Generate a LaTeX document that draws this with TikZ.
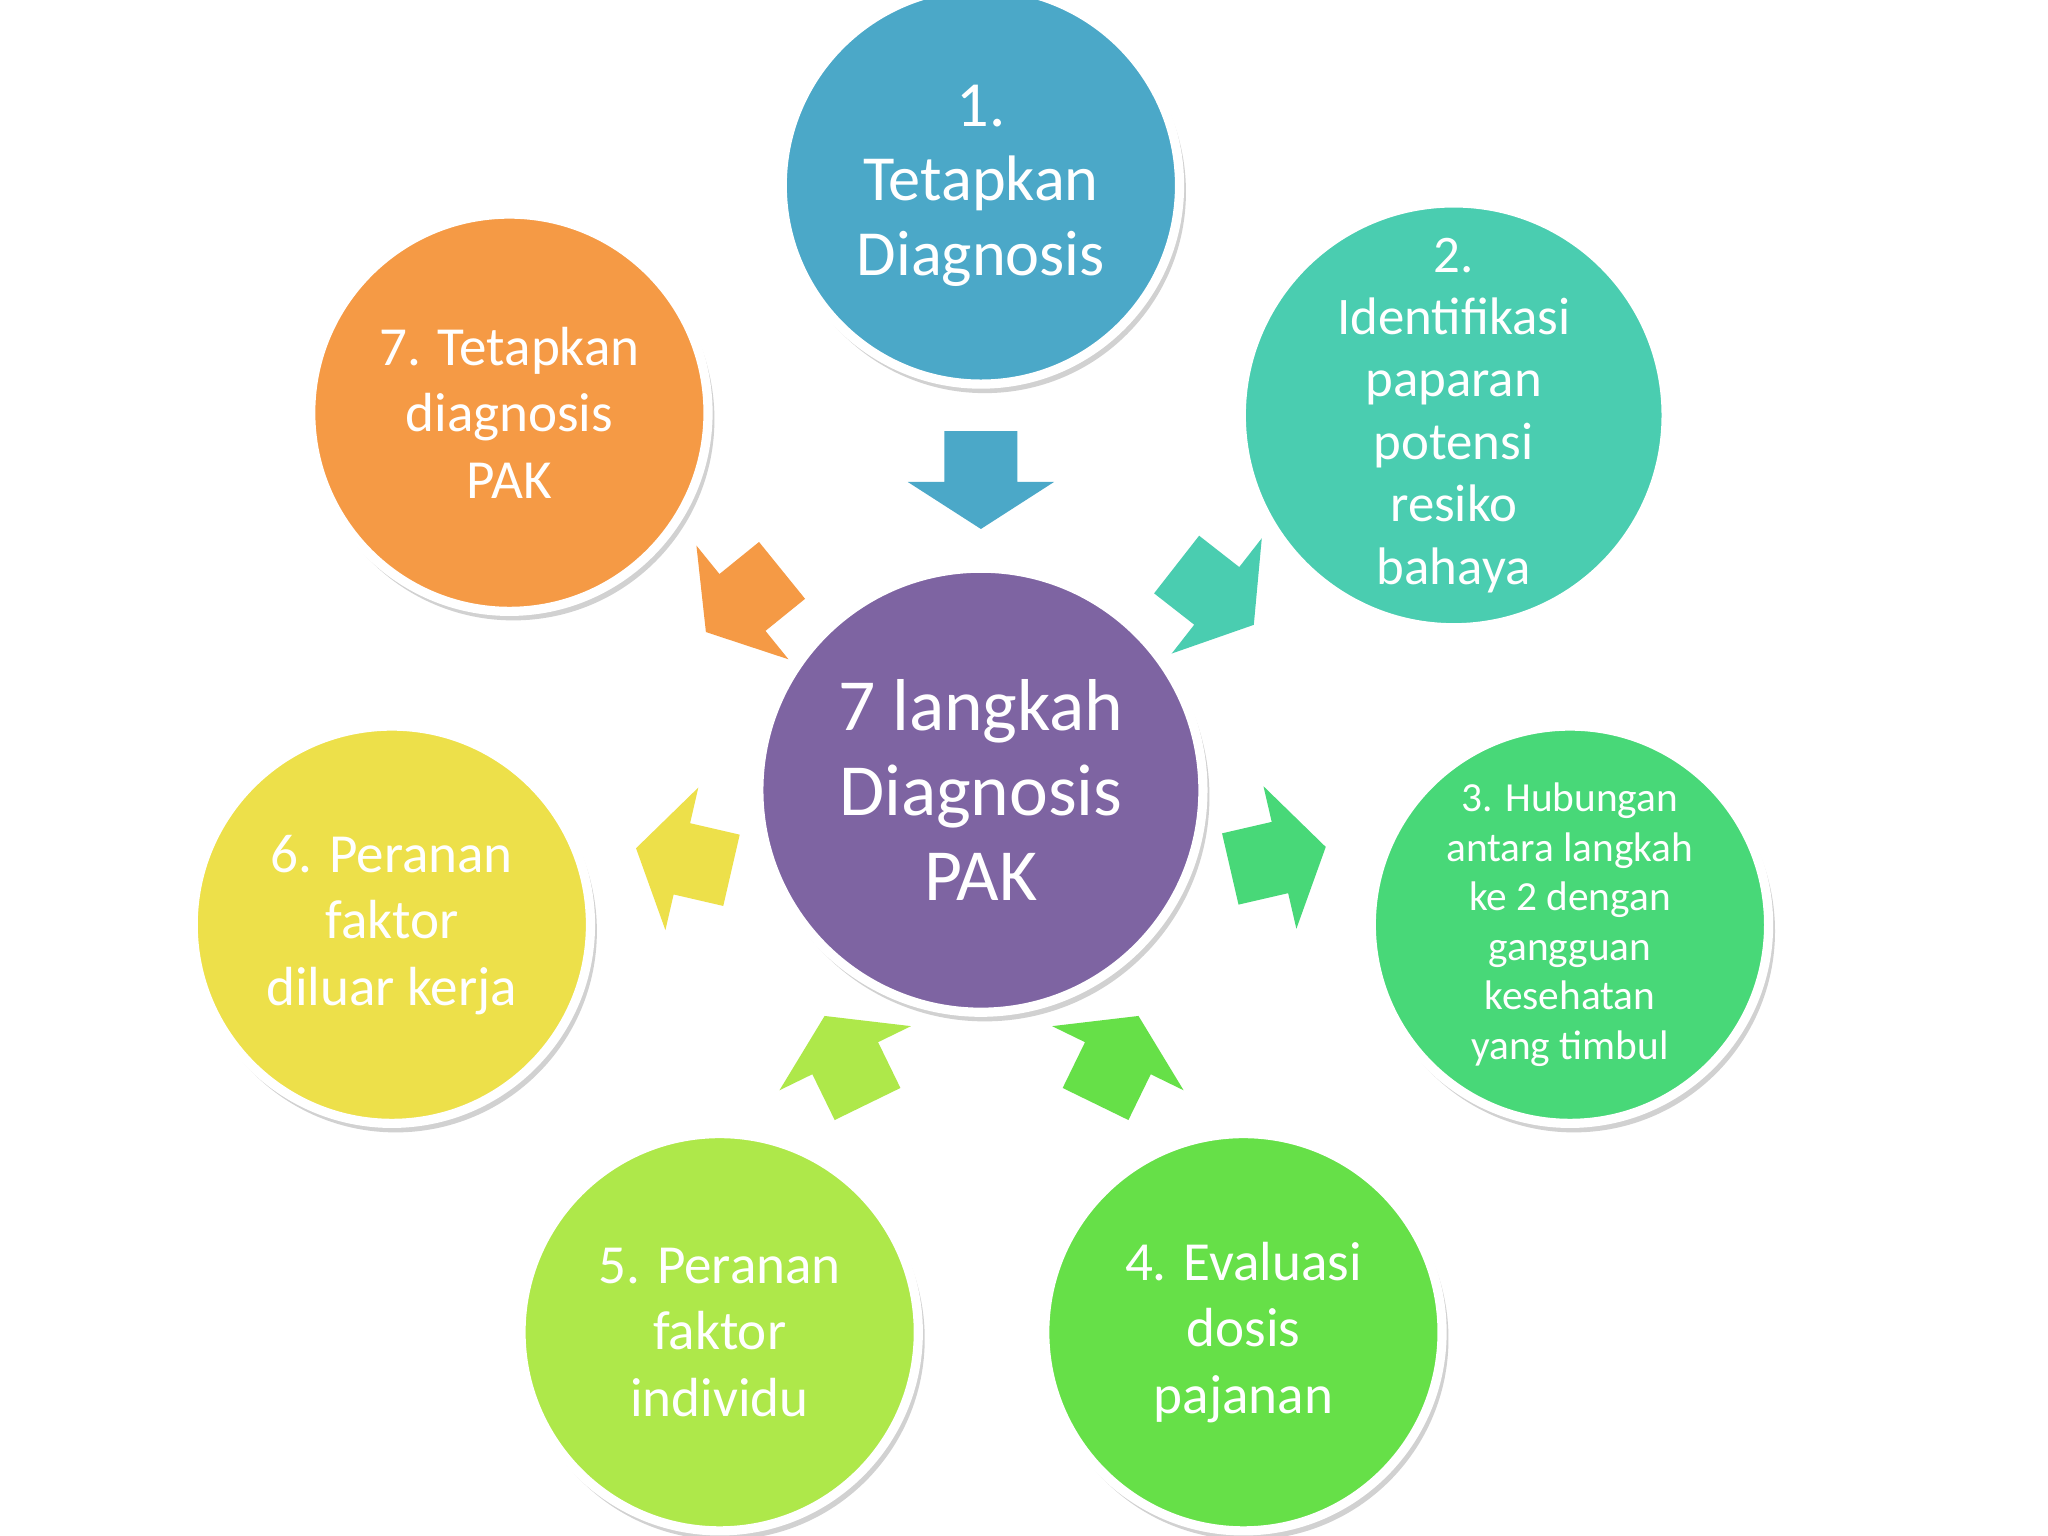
\documentclass[tikz,border=0pt]{standalone}
\usepackage{fontspec}
\setmainfont{Carlito}
\definecolor{cA}{HTML}{4BA8C8}
\definecolor{cB}{HTML}{4ACDB0}
\definecolor{cC}{HTML}{48D878}
\definecolor{cD}{HTML}{66E048}
\definecolor{cE}{HTML}{AEE84A}
\definecolor{cF}{HTML}{EDE04A}
\definecolor{cG}{HTML}{F59A45}
\definecolor{cM}{HTML}{7E64A2}
\begin{document}
\begin{tikzpicture}[x=0.01cm,y=-0.01cm,
  bub/.style={circle,draw=white,line width=2pt,text=white,align=center,inner sep=0pt,font=\fontsize{12}{14.5}\selectfont},
  blk/.style={line width=0pt}]
\useasboundingbox (0,0) rectangle (1568,1176);
\fill[white] (0,0) rectangle (1568,1176);
% shadows
\foreach \x/\y/\r in {751/605/172,751/142/154,1113/318/154,1202/708/154,952/1020/154,551/1020/154,300/708/154,390/316/154}
  \fill[black!18] (\x+3,\y+5) circle (\r);
\node[bub,fill=cM,minimum size=340\pgflinewidth/2,minimum size=9.6cm*0+340*0.01cm,font=\fontsize{16}{18.5}\selectfont] (c) at (751,605) {7 langkah\\Diagnosis\\PAK};
\node[bub,fill=cA,minimum size=3.04cm,font=\fontsize{14}{16.2}\selectfont] (n1) at (751,142) {1.\\Tetapkan\\Diagnosis};
\node[bub,fill=cB,minimum size=3.04cm,font=\fontsize{11.5}{13.6}\selectfont] (n2) at (1113,318) {2.\\Identifikasi\\paparan\\potensi\\resiko\\bahaya};
\node[bub,fill=cC,minimum size=3.04cm,font=\fontsize{9}{10.8}\selectfont] (n3) at (1202,708) {3. Hubungan\\antara langkah\\ke 2 dengan\\gangguan\\kesehatan\\yang timbul};
\node[bub,fill=cD,minimum size=3.04cm] (n4) at (952,1020) {4. Evaluasi\\dosis\\pajanan};
\node[bub,fill=cE,minimum size=3.04cm] (n5) at (551,1020) {5. Peranan\\faktor\\individu};
\node[bub,fill=cF,minimum size=3.04cm] (n6) at (300,708) {6. Peranan\\faktor\\diluar kerja};
\node[bub,fill=cG,minimum size=3.04cm] (n7) at (390,316) {7. Tetapkan\\diagnosis\\PAK};
% block arrows (angles in screen orientation, y down)
\foreach \x/\y/\a/\c in {751/367/-90/cA, 930/455/-38/cB, 978/657/13/cC, 855/812/64/cD, 648/812/116/cE, 524/658/167/cF, 570/460/-141/cG}
  \fill[\c,shift={(\x,\y)},rotate=\a] (-37,-28) -- (2,-28) -- (2,-56) -- (38,0) -- (2,56) -- (2,28) -- (-37,28) -- cycle;
\end{tikzpicture}
\end{document}
